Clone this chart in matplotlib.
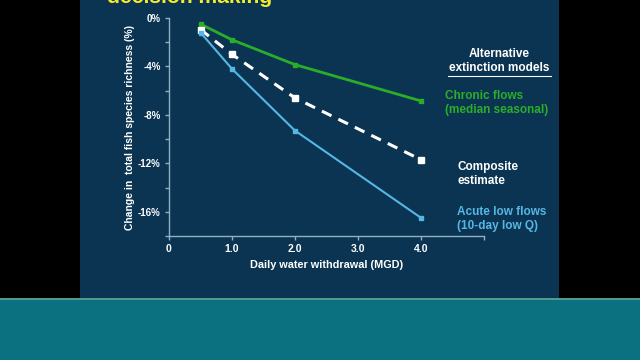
import matplotlib
matplotlib.use("Agg")
import matplotlib.pyplot as plt
from matplotlib.patches import Rectangle
from matplotlib.ticker import FixedLocator

plt.rcParams['font.family'] = ['Liberation Sans', 'DejaVu Sans']

withdrawal = [0.5, 1.0, 2.0, 4.0]
chronic = [-0.5, -1.8, -3.85, -6.85]
composite = [-0.95, -3.0, -6.6, -11.7]
acute = [-1.2, -4.2, -9.3, -16.5]

xtick_vals = [0, 1, 2, 3, 4]
xtick_labels = ["0", "1.0", "2.0", "3.0", "4.0"]
ytick_vals = [0, -4, -8, -12, -16]
ytick_labels = ["0%", "-4%", "-8%", "-12%", "-16%"]

PANEL = "#0a3451"
TEAL = "#0b707f"
AXC = "#8fb0c6"
GREEN = "#2aae2a"
BLUE = "#56b6e6"

fig = plt.figure(figsize=(6.4, 3.6), dpi=100)
fig.patch.set_facecolor("black")
W, H = 640, 360
fig.patches.append(Rectangle((80 / W, 1 - 298 / H), (559 - 80) / W, 298 / H,
                             transform=fig.transFigure, facecolor=PANEL, edgecolor="none", zorder=-10))
fig.patches.append(Rectangle((0, 0), 1, 1 - 298 / H, transform=fig.transFigure,
                             facecolor=TEAL, edgecolor="none", zorder=-10))
fig.patches.append(Rectangle((0, 1 - 299.5 / H), 1, 1.5 / H, transform=fig.transFigure,
                             facecolor="#4f9c8c", edgecolor="none", zorder=-9))

ax = fig.add_axes([169 / W, 1 - 236 / H, (484 - 169) / W, (236 - 18) / H])
ax.set_zorder(5)
ax.patch.set_alpha(0)
for s in ["top", "right"]:
    ax.spines[s].set_visible(False)
for s in ["left", "bottom"]:
    ax.spines[s].set_color(AXC)
    ax.spines[s].set_linewidth(1.0)

ax.plot(withdrawal, chronic, color=GREEN, lw=2.0, marker="s", ms=3.5, zorder=3, clip_on=False)
ax.plot(withdrawal, composite, color="white", lw=2.2, ls=(0, (3.5, 2.5)), marker="s", ms=4.5, zorder=3, clip_on=False)
ax.plot(withdrawal, acute, color=BLUE, lw=1.5, marker="s", ms=3.5, zorder=3, clip_on=False)

ax.set_xlim(0, 5)
ax.set_ylim(-18, 0)
ax.xaxis.set_major_locator(FixedLocator(xtick_vals + [5]))
ax.set_xticklabels(xtick_labels + [""])
ax.yaxis.set_major_locator(FixedLocator(ytick_vals))
ax.set_yticklabels(ytick_labels)
ax.yaxis.set_minor_locator(FixedLocator([-2, -6, -10, -14, -18]))
ax.tick_params(axis="both", which="both", colors=AXC, length=3, width=1.0)
ax.tick_params(axis="x", labelsize=7.5, labelcolor="white", pad=3)
ax.tick_params(axis="y", labelsize=7, labelcolor="white", pad=3)
for lbl in ax.get_xticklabels() + ax.get_yticklabels():
    lbl.set_fontweight("bold")

ax.set_xlabel("Daily water withdrawal (MGD)", color="white", fontsize=7.8, fontweight="bold", labelpad=4)
ax.set_ylabel("Change in  total fish species richness (%)", color="white", fontsize=7.5, fontweight="bold", labelpad=2)

def ftext(x, y, s, **kw):
    fig.text(x / W, 1 - y / H, s, **kw)

ftext(107, 3, "decision making", color="#f2ec2a", fontsize=15.2, fontweight="bold", va="baseline", ha="left")
ftext(499, 54, "Alternative", color="white", fontsize=8.5, fontweight="bold", ha="center", va="center")
ftext(499, 68, "extinction models", color="white", fontsize=8.5, fontweight="bold", ha="center", va="center")
fig.lines.append(plt.Line2D([448 / W, 551 / W], [1 - 75.5 / H, 1 - 75.5 / H], transform=fig.transFigure, color="white", lw=0.8))
ftext(445, 96, "Chronic flows", color=GREEN, fontsize=8.5, fontweight="bold", ha="left", va="center")
ftext(445, 110.5, "(median seasonal)", color=GREEN, fontsize=8.5, fontweight="bold", ha="left", va="center")
ftext(457, 167, "Composite", color="white", fontsize=8.5, fontweight="bold", ha="left", va="center")
ftext(457, 181, "estimate", color="white", fontsize=8.5, fontweight="bold", ha="left", va="center")
ftext(457, 212, "Acute low flows", color=BLUE, fontsize=8.5, fontweight="bold", ha="left", va="center")
ftext(457, 226, "(10-day low Q)", color=BLUE, fontsize=8.5, fontweight="bold", ha="left", va="center")

fig.savefig("out.png", dpi=100, facecolor=fig.get_facecolor())
